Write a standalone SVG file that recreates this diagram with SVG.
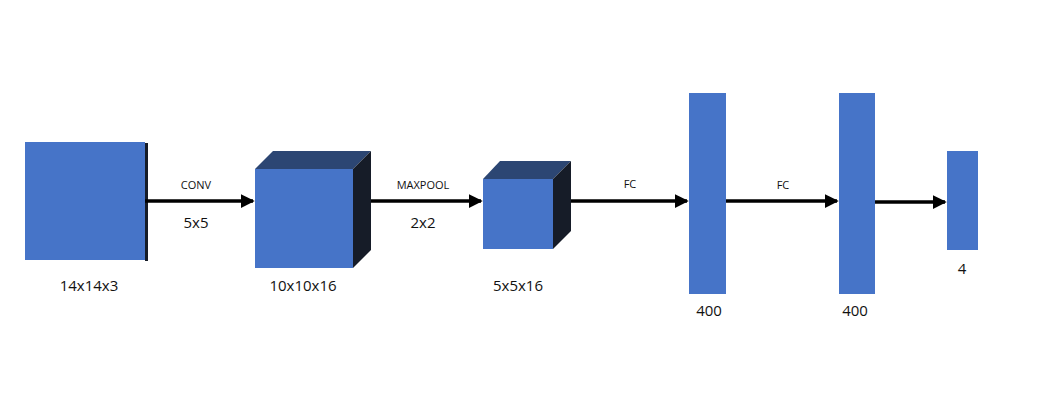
<svg xmlns="http://www.w3.org/2000/svg" width="1045" height="407" viewBox="0 0 1045 407">
<style>
.f{fill:#4674C8}.t{fill:#2C4673}.s{fill:#161C28}
text{font-family:"Open Sans","Liberation Sans",sans-serif;fill:#111}
.sm{font-size:11px}.lg{font-size:15px}
.c{stroke:#000;stroke-width:3.5;fill:none;marker-end:url(#a)}
</style>
<defs><marker id="a" markerWidth="4" markerHeight="4" refX="3.5" refY="2" orient="auto"><path d="M0,0L4,2L0,4z" fill="#000"/></marker></defs>
<rect width="1045" height="407" fill="#fff"/>
<g id="n1"><rect x="145" y="143" width="3" height="118" class="s"/><rect x="25" y="142" width="120" height="118" class="f"/><text x="89" y="291" class="lg" text-anchor="middle">14x14x3</text></g>
<g id="n2"><path d="M255,169L273,151H371L353,169z" class="t"/><path d="M353,169L371,151V250L353,268z" class="s"/><rect x="255" y="169" width="98" height="99" class="f"/><text x="303" y="291" class="lg" text-anchor="middle">10x10x16</text></g>
<g id="n3"><path d="M483,179L500,161H571L553,179z" class="t"/><path d="M553,179L571,161V231L553,249z" class="s"/><rect x="483" y="179" width="70" height="70" class="f"/><text x="518" y="291" class="lg" text-anchor="middle">5x5x16</text></g>
<g id="n4"><rect x="689" y="93" width="37" height="201" class="f"/><text x="709" y="316" class="lg" text-anchor="middle">400</text></g>
<g id="n5"><rect x="839" y="93" width="36" height="201" class="f"/><text x="855" y="316" class="lg" text-anchor="middle">400</text></g>
<g id="n6"><rect x="947" y="151" width="31" height="99" class="f"/><text x="962" y="274" class="lg" text-anchor="middle">4</text></g>
<g id="connectors">
<line x1="145" y1="201" x2="253" y2="201" class="c"/>
<line x1="371" y1="201" x2="481" y2="201" class="c"/>
<line x1="571" y1="201" x2="687" y2="201" class="c"/>
<line x1="726" y1="201" x2="837" y2="201" class="c"/>
<line x1="875" y1="202" x2="945" y2="202" class="c"/>
<text x="196" y="189" class="sm" text-anchor="middle">CONV</text>
<text x="196" y="228" class="lg" text-anchor="middle">5x5</text>
<text x="423" y="189" class="sm" text-anchor="middle">MAXPOOL</text>
<text x="423" y="228" class="lg" text-anchor="middle">2x2</text>
<text x="630" y="188" class="sm" text-anchor="middle">FC</text>
<text x="783" y="189" class="sm" text-anchor="middle">FC</text>
</g>
</svg>
